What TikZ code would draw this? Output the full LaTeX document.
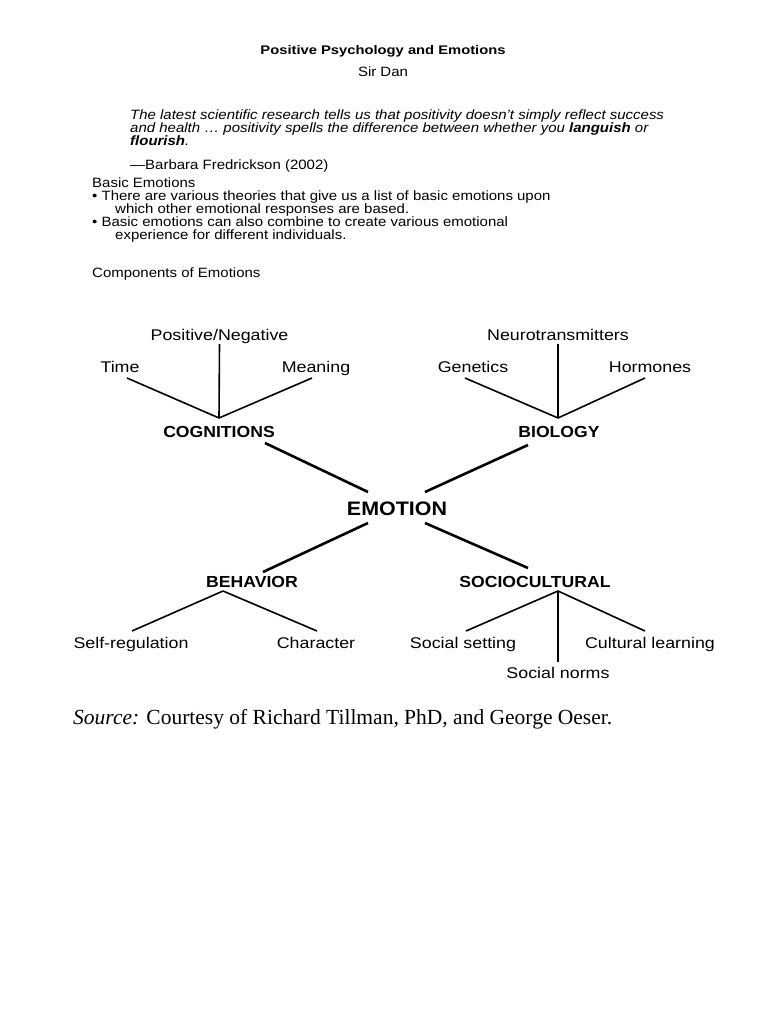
\documentclass[tikz,border=0pt]{standalone}
\usepackage{fontspec}
\setmainfont[FakeStretch=1.11]{Liberation Sans}
\newfontfamily\diagfont[FakeStretch=1.15]{Liberation Sans}
\newfontfamily\hubfont[FakeStretch=1.1]{Liberation Sans}
\newfontfamily\titlefont[FakeStretch=1.18]{Liberation Sans}
\newfontfamily\sourcefont{Liberation Serif}
\usetikzlibrary{calc}
\tikzset{
  leaf/.style={font=\diagfont\fontsize{15.5}{17}\selectfont, inner sep=0pt, anchor=base},
  hub/.style={font=\hubfont\bfseries\fontsize{16}{18}\selectfont, inner sep=0pt, anchor=base},
  core/.style={font=\hubfont\bfseries\fontsize{19.5}{22}\selectfont, inner sep=0pt, anchor=base},
  textline/.style={font=\fontsize{13.5}{13}\selectfont, inner sep=0pt, anchor=base west},
  twig/.style={line width=1.6pt},
  spoke/.style={line width=2.6pt}
}

\begin{document}
\begin{tikzpicture}[x=1pt, y=-1pt]
  \fill[white] (0,0) rectangle (768,1024);
  \useasboundingbox (0,0) rectangle (768,1024);

  % header and text
  \node[inner sep=0pt, anchor=base, font=\titlefont\bfseries\fontsize{12.5}{14}\selectfont] (title) at (383,55) {Positive Psychology and Emotions};
  \node[textline, anchor=base] (author) at (383,77) {Sir Dan};
  \node[textline] (q1) at (130,120) {\itshape The latest scientific research tells us that positivity doesn’t simply reflect success};
  \node[textline] (q2) at (130,133) {\itshape and health … positivity spells the difference between whether you \textbf{languish} or};
  \node[textline] (q3) at (130,146) {\itshape\textbf{flourish}.};
  \node[textline] (cite) at (130,170) {—Barbara Fredrickson (2002)};
  \node[textline] (basic) at (92,187.5) {Basic Emotions};
  \node[textline] (b1) at (92,200.5) {• There are various theories that give us a list of basic emotions upon};
  \node[textline] (b1b) at (115,213.5) {which other emotional responses are based.};
  \node[textline] (b2) at (92,226.5) {• Basic emotions can also combine to create various emotional};
  \node[textline] (b2b) at (115,239.5) {experience for different individuals.};
  \node[textline] (comp) at (92,277) {Components of Emotions};

  % diagram labels
  \node[leaf] (posneg) at (219.5,340) {Positive/Negative};
  \node[leaf] (time) at (120,372) {Time};
  \node[leaf] (meaning) at (316,372) {Meaning};
  \node[hub] (cog) at (219,437) {COGNITIONS};
  \node[leaf] (neuro) at (558,340) {Neurotransmitters};
  \node[leaf] (genet) at (473,372) {Genetics};
  \node[leaf] (hormo) at (650,372) {Hormones};
  \node[hub] (bio) at (559,437) {BIOLOGY};
  \node[core] (emo) at (397,515) {EMOTION};
  \node[hub] (behav) at (252,587) {BEHAVIOR};
  \node[hub] (socio) at (535,587) {SOCIOCULTURAL};
  \node[leaf] (selfreg) at (131,648) {Self-regulation};
  \node[leaf] (charac) at (316,648) {Character};
  \node[leaf] (setting) at (463,648) {Social setting};
  \node[leaf] (cultlearn) at (650,648) {Cultural learning};
  \node[leaf] (norms) at (558,678) {Social norms};

  \coordinate (cogJ) at (219,418);
  \coordinate (bioJ) at (558,418);
  \coordinate (behJ) at (223,591);
  \coordinate (socJ) at (558,591);

  % branches
  \draw[twig] ($(posneg.base)+(0,4)$) -- (cogJ);
  \draw[twig] ($(time.base)+(7,6)$) -- (cogJ);
  \draw[twig] ($(meaning.base)+(-4,6)$) -- (cogJ);
  \draw[twig] ($(neuro.base)+(0,4)$) -- (bioJ);
  \draw[twig] ($(genet.base)+(-8,6)$) -- (bioJ);
  \draw[twig] ($(hormo.base)+(-5,6)$) -- (bioJ);

  \draw[spoke] ($(cog.base)+(46,6)$) -- ($(emo.base)+(-29,-23)$);
  \draw[spoke] ($(bio.base)+(-31,8)$) -- ($(emo.base)+(28,-23)$);
  \draw[spoke] ($(emo.base)+(-29,8)$) -- ($(behav.base)+(11,-15)$);
  \draw[spoke] ($(emo.base)+(28,8)$) -- ($(socio.base)+(-7,-19)$);

  \draw[twig] (behJ) -- ($(selfreg.base)+(1,-17)$);
  \draw[twig] (behJ) -- ($(charac.base)+(1,-17)$);
  \draw[twig] (socJ) -- ($(setting.base)+(3,-17)$);
  \draw[twig] (socJ) -- ($(cultlearn.base)+(-5,-17)$);
  \draw[spoke] (socJ) -- ($(norms.base)+(0,-16)$);

  \node[inner sep=0pt, anchor=base west, font=\sourcefont\fontsize{21.5}{24}\selectfont] (source) at (73,724) {\textit{Source:} Courtesy of Richard Tillman, PhD, and George Oeser.};
\end{tikzpicture}
\end{document}
